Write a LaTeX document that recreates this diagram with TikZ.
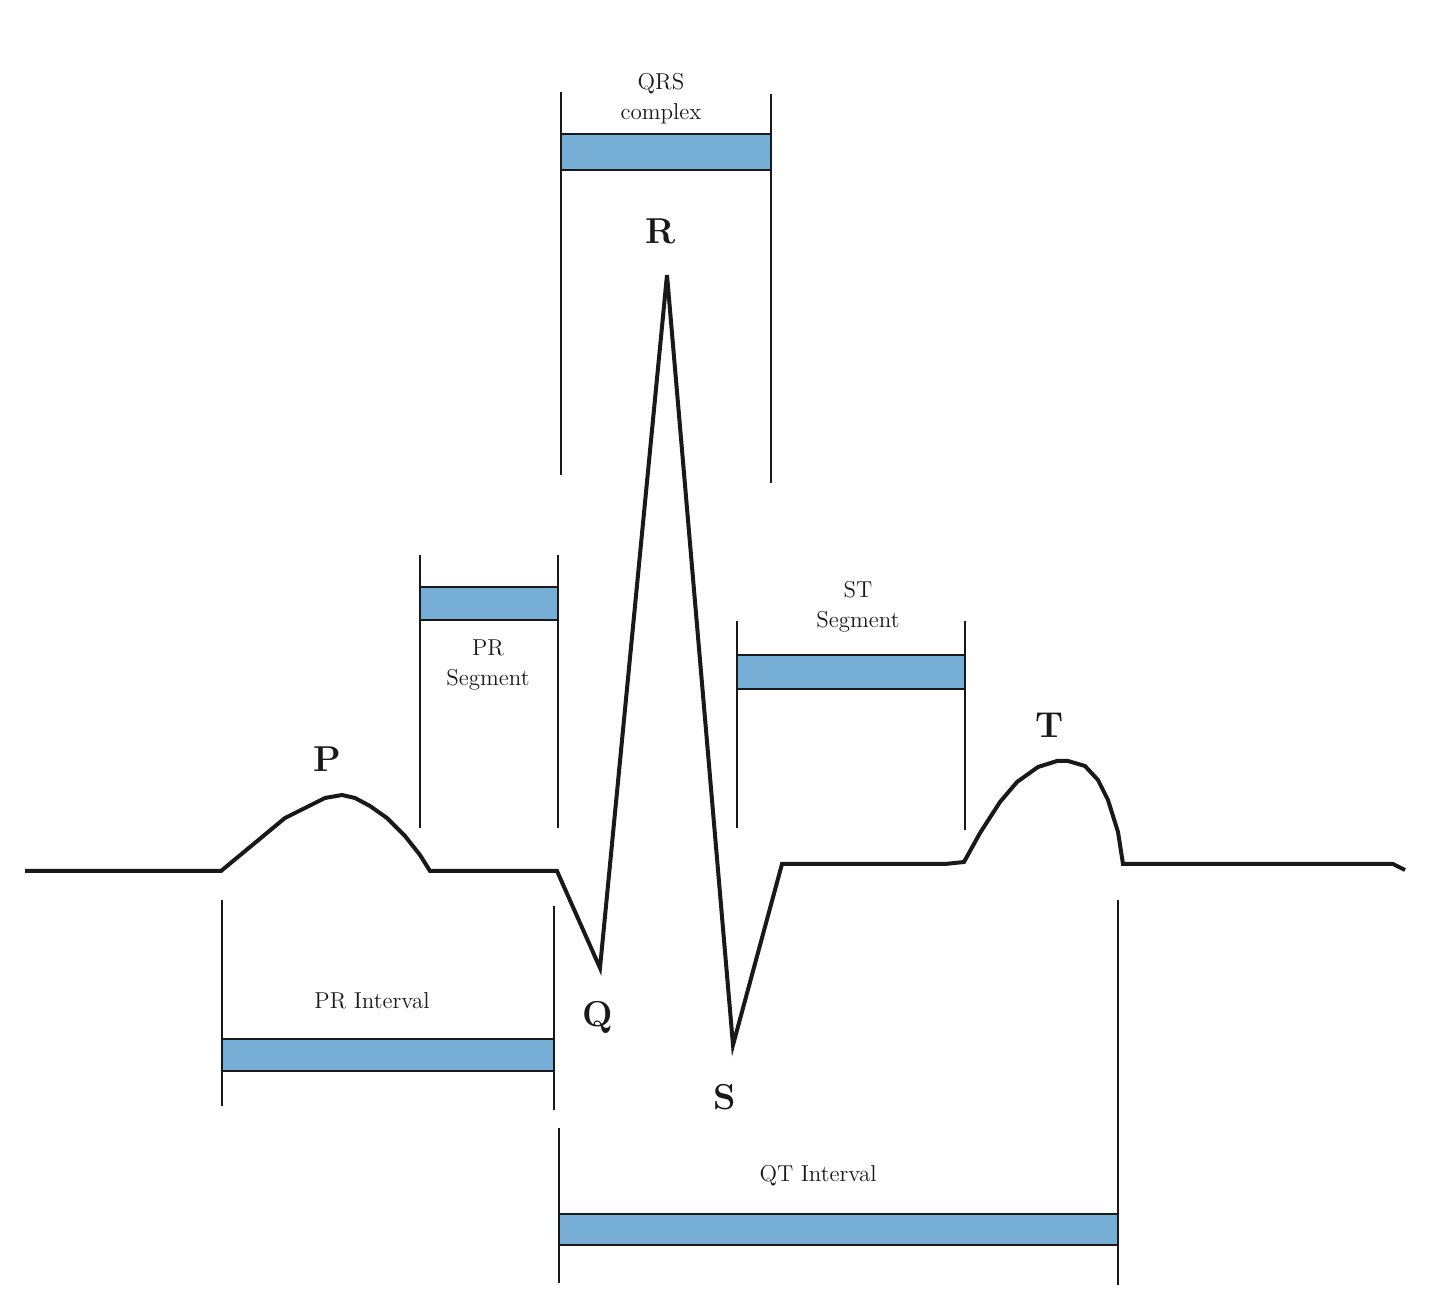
\documentclass[tikz,border=0pt]{standalone}
\usepackage{fontspec}
\definecolor{barblue}{RGB}{118,174,214}
\definecolor{ink}{RGB}{25,25,25}
\begin{document}
\begin{tikzpicture}[x=0.5pt,y=-0.5pt,
  bar/.style={draw=ink,fill=barblue,line width=0.7pt},
  tick/.style={draw=ink,line width=0.7pt},
  wave/.style={draw=ink,line width=2pt,line join=miter},
  peak/.style={font=\fontsize{18}{20}\selectfont\bfseries,text=ink},
  lbl/.style={font=\fontsize{11.5}{15}\selectfont\addfontfeatures{LetterSpace=12},text=ink,align=center}]
\useasboundingbox (0,0) rectangle (1432,1309);
\draw[wave] (25,871) -- (221,871) -- (285,818) -- (325,798) -- (342,795) -- (355,798) -- (370,806) -- (387,818) -- (405,836) -- (420,855) -- (430,871) -- (557,871) -- (600,968) -- (667,275) -- (733,1045) -- (782,864) -- (945,864) -- (964,862) -- (980,833) -- (1000,802) -- (1017,782) -- (1038,767) -- (1057,761) -- (1068,761) -- (1085,766) -- (1098,780) -- (1108,800) -- (1118,832) -- (1123,864) -- (1393,864) -- (1405,870);
% QRS
\draw[tick] (561,92) -- (561,475); \draw[tick] (771,94) -- (771,483);
\draw[bar] (561,134) rectangle (771,170);
\node[lbl] (qrs) at (661,99) {QRS\\complex};
% PR segment
\draw[tick] (420,555) -- (420,828); \draw[tick] (558,555) -- (558,828);
\draw[bar] (420,587) rectangle (558,620);
\node[lbl] (prs) at (488,665) {PR\\Segment};
% ST segment
\draw[tick] (737,621) -- (737,828); \draw[tick] (965,621) -- (965,830);
\draw[bar] (737,655) rectangle (965,689);
\node[lbl] (sts) at (858,607) {ST\\Segment};
% PR interval
\draw[tick] (222,900) -- (222,1106); \draw[tick] (554,906) -- (554,1110);
\draw[bar] (222,1039) rectangle (554,1071);
\node[lbl] (pri) at (372,1001) {PR Interval};
% QT interval
\draw[tick] (559,1128) -- (559,1283); \draw[tick] (1118,900) -- (1118,1285);
\draw[bar] (559,1214) rectangle (1118,1245);
\node[lbl] (qti) at (818,1176) {QT Interval};
% peaks
\node[peak] (R) at (661,231) {R};
\node[peak] (P) at (327,759) {P};
\node[peak] (Q) at (598,1017) {Q};
\node[peak] (S) at (725,1097) {S};
\node[peak] (T) at (1050,725) {T};
\end{tikzpicture}
\end{document}
